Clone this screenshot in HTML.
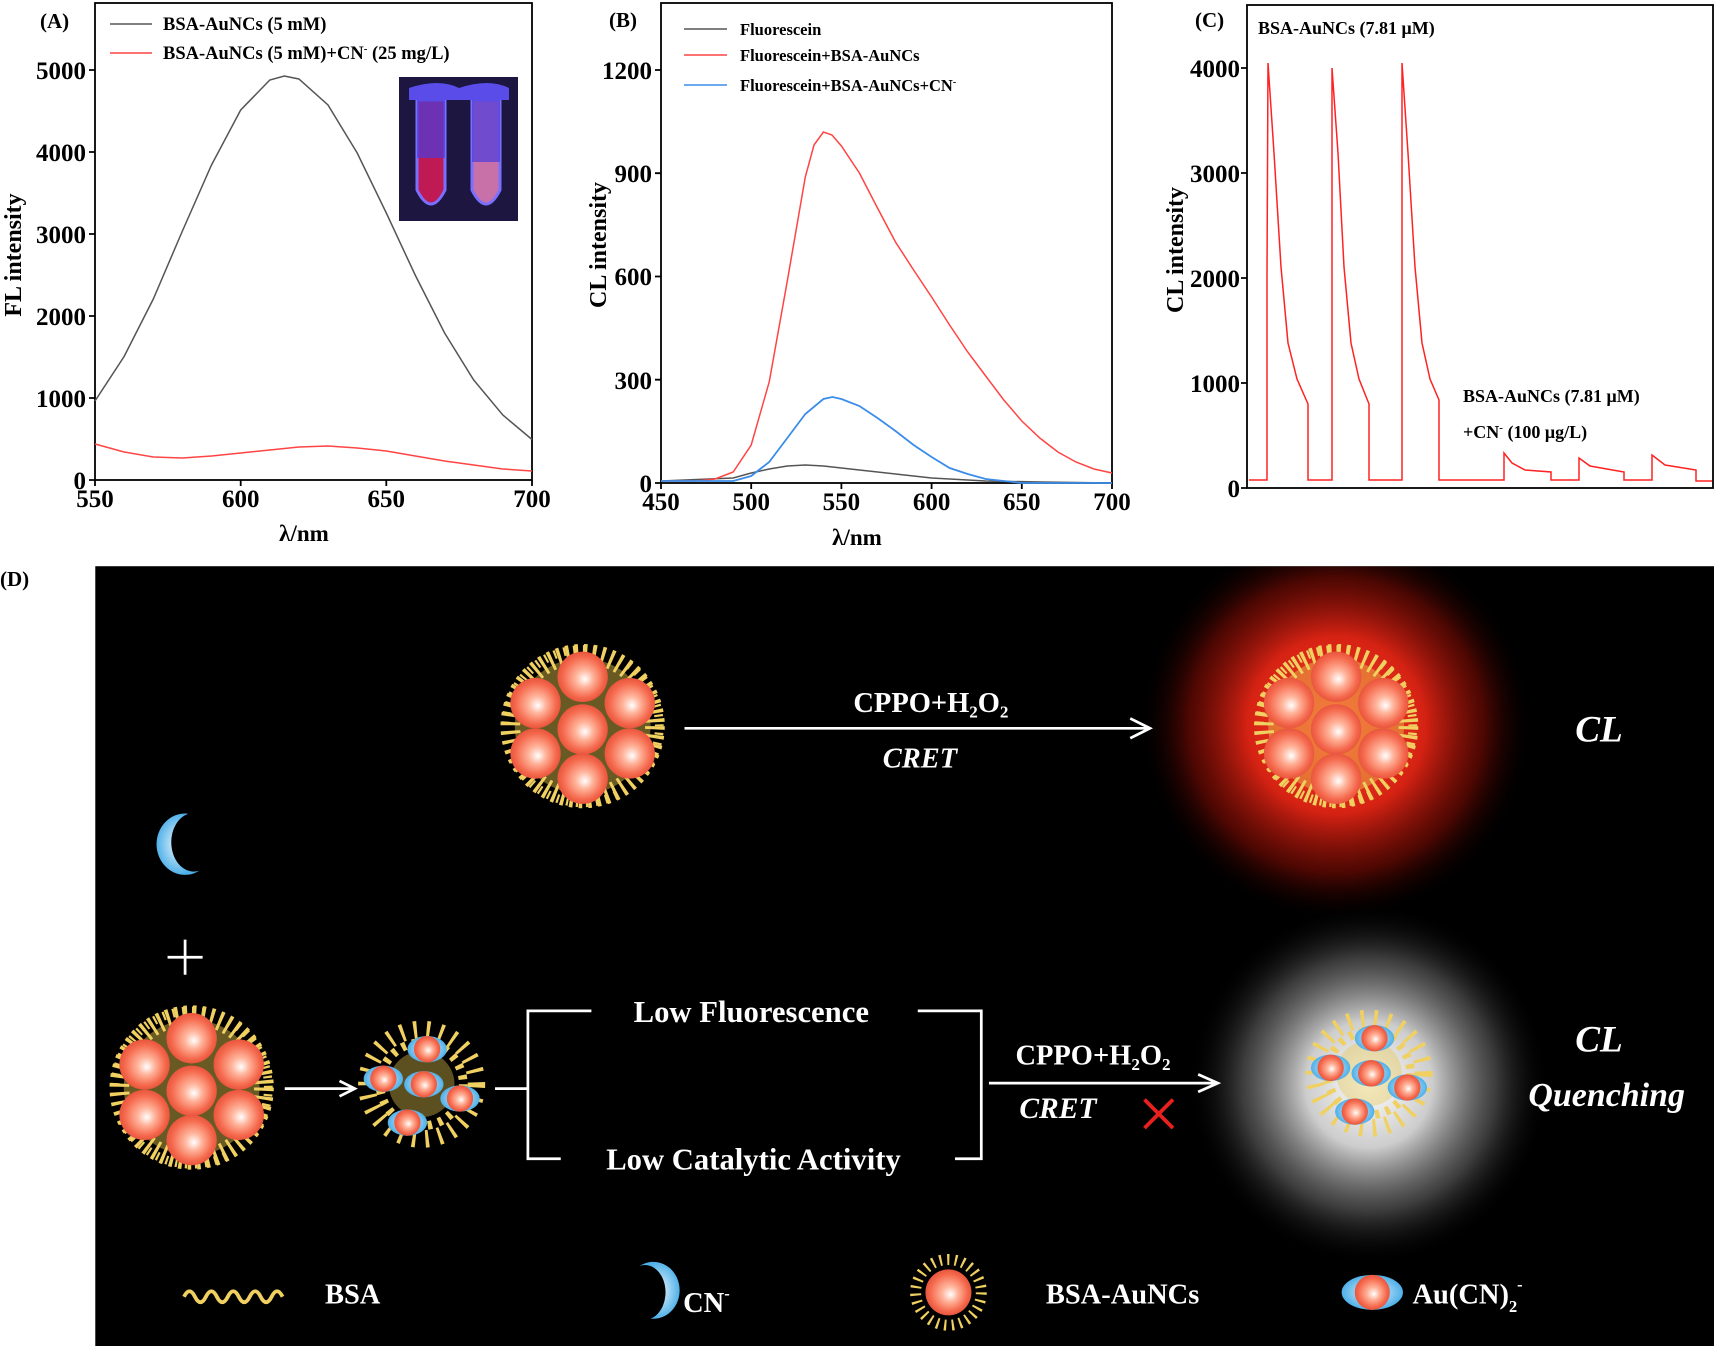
<!DOCTYPE html>
<html><head><meta charset="utf-8"><style>
html,body{margin:0;padding:0;background:#fff}
svg{display:block}
text{font-family:"Liberation Serif",serif;font-weight:bold}
</style></head><body>
<svg width="1715" height="1346" viewBox="0 0 1715 1346" xmlns="http://www.w3.org/2000/svg">
<defs>
<radialGradient id="sp" cx="0.5" cy="0.5" r="0.5" fx="0.55" fy="0.55">
<stop offset="0" stop-color="#fff"/><stop offset="0.35" stop-color="#ffb39a"/><stop offset="0.8" stop-color="#f56a4e"/><stop offset="1" stop-color="#e8553d"/></radialGradient>
<radialGradient id="rg"><stop offset="0" stop-color="#ff4030"/><stop offset="0.45" stop-color="#e02414" stop-opacity="0.95"/><stop offset="0.75" stop-color="#800c04" stop-opacity="0.6"/><stop offset="1" stop-color="#000" stop-opacity="0"/></radialGradient>
<radialGradient id="gg"><stop offset="0" stop-color="#fff"/><stop offset="0.35" stop-color="#d8d8d8" stop-opacity="0.95"/><stop offset="0.7" stop-color="#666" stop-opacity="0.6"/><stop offset="1" stop-color="#000" stop-opacity="0"/></radialGradient>
<radialGradient id="bl"><stop offset="0" stop-color="#e8f6ff"/><stop offset="1" stop-color="#4fb0e8"/></radialGradient>
<clipPath id="bx"><rect x="87" y="517" width="1478" height="713"/></clipPath>
<g id="big">
<circle r="62" fill="#e8c850" opacity="0.45"/>
<circle r="66" fill="none" stroke="#f0d060" stroke-width="18" stroke-dasharray="3 5"/>
<circle r="70" fill="none" stroke="#f0d060" stroke-width="8" stroke-dasharray="2 7" stroke-dashoffset="3"/>
<circle cx="0" cy="-45" r="23" fill="url(#sp)"/><circle cx="-43" cy="-21" r="23" fill="url(#sp)"/><circle cx="43" cy="-21" r="23" fill="url(#sp)"/>
<circle cx="0" cy="3" r="23" fill="url(#sp)"/><circle cx="-43" cy="25" r="23" fill="url(#sp)"/><circle cx="43" cy="25" r="23" fill="url(#sp)"/><circle cx="0" cy="48" r="23" fill="url(#sp)"/>
</g>
<g id="small">
<circle r="50" fill="none" stroke="#f0d060" stroke-width="16" stroke-dasharray="3 9"/>
<circle r="38" fill="none" stroke="#f0d060" stroke-width="8" stroke-dasharray="4 6"/>
<circle r="30" fill="#e8c850" opacity="0.4"/>
<g><ellipse cx="5" cy="-32" rx="18" ry="12" fill="url(#bl)"/><circle cx="5" cy="-32" r="12" fill="url(#sp)"/></g>
<g><ellipse cx="-35" cy="-5" rx="18" ry="12" fill="url(#bl)"/><circle cx="-35" cy="-5" r="12" fill="url(#sp)"/></g>
<g><ellipse cx="2" cy="0" rx="18" ry="12" fill="url(#bl)"/><circle cx="2" cy="0" r="12" fill="url(#sp)"/></g>
<g><ellipse cx="35" cy="13" rx="18" ry="12" fill="url(#bl)"/><circle cx="35" cy="13" r="12" fill="url(#sp)"/></g>
<g><ellipse cx="-13" cy="35" rx="18" ry="12" fill="url(#bl)"/><circle cx="-13" cy="35" r="12" fill="url(#sp)"/></g>
</g>
</defs>
<rect width="1715" height="1346" fill="#fff"/>
<g fill="none" stroke="#000" stroke-width="1.8">
<rect x="95" y="3" width="437" height="477"/>
<path d="M95 480h-6M95 398h-6M95 316h-6M95 234h-6M95 152h-6M95 70h-6M95 480v6M240.7 480v6M386.3 480v6M532 480v6"/>
<rect x="661" y="3" width="451" height="480"/>
<path d="M661 483h-6M661 379.7h-6M661 276.5h-6M661 173.2h-6M661 70h-6M661 483v6M751.2 483v6M841.4 483v6M931.6 483v6M1021.8 483v6M1112 483v6"/>
<rect x="1247" y="5" width="466" height="483"/>
<path d="M1247 488h-6M1247 383h-6M1247 278h-6M1247 173h-6M1247 68h-6"/>
</g>
<g font-size="25" text-anchor="end">
<text x="86" y="489">0</text><text x="86" y="407">1000</text><text x="86" y="325">2000</text><text x="86" y="243">3000</text><text x="86" y="161">4000</text><text x="86" y="79">5000</text>
<text x="652" y="492">0</text><text x="652" y="389">300</text><text x="652" y="285">600</text><text x="652" y="182">900</text><text x="652" y="79">1200</text>
<text x="1240" y="497">0</text><text x="1240" y="392">1000</text><text x="1240" y="287">2000</text><text x="1240" y="182">3000</text><text x="1240" y="77">4000</text>
</g>
<g font-size="25" text-anchor="middle">
<text x="95" y="507">550</text><text x="240.7" y="507">600</text><text x="386.3" y="507">650</text><text x="532" y="507">700</text>
<text x="661" y="510">450</text><text x="751.2" y="510">500</text><text x="841.4" y="510">550</text><text x="931.6" y="510">600</text><text x="1021.8" y="510">650</text><text x="1112" y="510">700</text>
<text x="304" y="541" font-size="23">λ/nm</text><text x="857" y="545" font-size="23">λ/nm</text>
<text transform="translate(21 255) rotate(-90)" font-size="24">FL intensity</text>
<text transform="translate(606 245) rotate(-90)" font-size="24">CL intensity</text>
<text transform="translate(1183 250) rotate(-90)" font-size="24">CL intensity</text>
</g>
<g font-size="21"><text x="40" y="28">(A)</text><text x="609" y="27">(B)</text><text x="1195" y="27">(C)</text><text x="0" y="586">(D)</text></g>
<polyline fill="none" stroke="#555" stroke-width="1.5" points="95,401 124.1,356.5 153.3,299 182.4,231 211.5,165 240.7,110 269.8,80 284.3,76 298.9,79 328,105 357.2,153 386.3,213 415.4,275.5 444.6,333 473.7,380 502.8,415 532,439.5"/>
<polyline fill="none" stroke="#f44" stroke-width="1.5" points="95,444 124.1,452 153.3,457 182.4,458 211.5,456 240.7,453 269.8,450 298.9,447 328,446 357.2,448 386.3,451 415.4,456 444.6,461 473.7,465 502.8,469 532,471"/>
<path d="M110 24h42" stroke="#555" stroke-width="1.6"/><text x="163" y="30" font-size="18.5">BSA-AuNCs (5 mM)</text>
<path d="M110 53h42" stroke="#f44" stroke-width="1.6"/><text x="163" y="59" font-size="18.5">BSA-AuNCs (5 mM)+CN<tspan font-size="11" dy="-7">-</tspan><tspan dy="7"> (25 mg/L)</tspan></text>
<rect x="399" y="77" width="119" height="144" fill="#1c1640"/>
<path d="M417 100h28v90q-14 28-28 0z" fill="#c01a55" stroke="#7a70ff" stroke-width="3"/>
<path d="M472 100h28v90q-14 28-28 0z" fill="#c870a8" stroke="#7a70ff" stroke-width="3"/>
<path d="M417 100v58h28v-58zM472 100v62h28v-62z" fill="#4a3cdd" opacity="0.7"/>
<path d="M409 88q30-10 50 0q30-10 50 0v12h-100z" fill="#5a4ce8"/>
<polyline fill="none" stroke="#555" stroke-width="1.5" points="661,481 733.2,478 751.2,473 769.2,469 787.3,466 805.3,465 823.4,466 841.4,468 859.4,470 895.5,474 931.6,478 985.7,481 1039.8,482 1112,483"/>
<polyline fill="none" stroke="#f44" stroke-width="1.5" points="661,481 679,481 697.1,481 715.1,479 733.2,472 751.2,445 769.2,382 787.3,281 805.3,177 814,145 823.4,132 832,135 841.4,146 859.4,173 877.5,208 895.5,242 913.6,270 931.6,297 949.6,325 967.7,352 985.7,376 1003.8,400 1021.8,421 1039.8,438 1057.9,452 1075.9,462 1094,469 1112,473"/>
<polyline fill="none" stroke="#3b8de8" stroke-width="1.8" points="661,481 733.2,481 751.2,476 769.2,462 787.3,438 805.3,414 823.4,399 832.4,397 841.4,399 859.4,406 877.5,418 895.5,431 913.6,445 931.6,457 949.6,468 967.7,474 985.7,479 1003.8,481 1021.8,483 1112,483"/>
<path d="M684 29h43" stroke="#555" stroke-width="1.6"/><text x="740" y="35" font-size="16.5">Fluorescein</text>
<path d="M684 55h43" stroke="#f44" stroke-width="1.6"/><text x="740" y="61" font-size="16.5">Fluorescein+BSA-AuNCs</text>
<path d="M684 85h43" stroke="#3b8de8" stroke-width="1.6"/><text x="740" y="91" font-size="16.5">Fluorescein+BSA-AuNCs+CN<tspan font-size="10" dy="-6">-</tspan></text>
<path fill="none" stroke="#f22" stroke-width="1.5" d="M1249 480H1267V274L1268 63L1274 153L1281 267L1288 343L1297 379L1308 404V480H1332V68L1338 153L1344 267L1351 343L1359 379L1369 404V480H1402V63L1408 153L1415 267L1422 343L1430 379L1439 400V480H1504V453L1512 463L1525 470L1551 472V480H1579V458L1590 466L1624 472V480H1652V455L1665 465L1696 470V481H1712"/>
<text x="1258" y="34" font-size="18">BSA-AuNCs (7.81 μM)</text>
<text x="1463" y="402" font-size="18">BSA-AuNCs (7.81 μM)</text>
<text x="1463" y="438" font-size="18">+CN<tspan font-size="11" dy="-7">-</tspan><tspan dy="7"> (100 μg/L)</tspan></text>
<g transform="scale(1.0952)">
<rect x="87" y="517" width="1478" height="713" fill="#000"/>
<g clip-path="url(#bx)">
<circle cx="1220" cy="662" r="180" fill="url(#rg)"/>
<circle cx="1250" cy="990" r="165" fill="url(#gg)"/>
</g>
<use href="#big" x="532" y="663"/>
<use href="#big" x="1220" y="663"/>
<use href="#big" x="175" y="993"/>
<use href="#small" x="385" y="990"/>
<use href="#small" x="1250" y="980"/>
<g fill="#fff" text-anchor="middle">
<text x="850" y="650" font-size="26">CPPO+H₂O₂</text>
<text x="840" y="701" font-size="26" font-style="italic">CRET</text>
<text x="1460" y="677" font-size="34" font-style="italic">CL</text>
<text x="1460" y="960" font-size="34" font-style="italic">CL</text>
<text x="1467" y="1010" font-size="31" font-style="italic">Quenching</text>
<text x="686" y="933" font-size="28">Low Fluorescence</text>
<text x="688" y="1068" font-size="28">Low Catalytic Activity</text>
<text x="998" y="972" font-size="26">CPPO+H₂O₂</text>
<text x="966" y="1021" font-size="27" font-style="italic">CRET</text>
<text x="322" y="1190" font-size="26">BSA</text>
<text x="645" y="1198" font-size="26">CN<tspan font-size="15" dy="-12">-</tspan></text>
<text x="1025" y="1190" font-size="26">BSA-AuNCs</text>
<text x="1340" y="1190" font-size="26">Au(CN)<tspan font-size="15" dy="8">2</tspan><tspan font-size="15" dy="-20">-</tspan></text>
</g>
<g stroke="#fff" stroke-width="2.5" fill="none">
<path d="M625 665H1048M1032 656L1050 665L1032 674"/>
<path d="M260 994H322M310 987L324 994L310 1001"/>
<path d="M452 994H482M540 923H482V1058H512M838 923H896V1058H872"/>
<path d="M903 989H1110M1094 981L1112 989L1094 997"/>
<path d="M153 874H185M169 858V890"/>
</g>
<path d="M1045 1004L1071 1030M1071 1004L1045 1030" stroke="#e8211e" stroke-width="3.5"/>
<path d="M172 743a26 28 0 1 0 10 52a20 26 0 1 1 -10 -52z" fill="url(#bl)"/>
<path d="M584 1156a24 26 0 1 1 10 48a18 24 0 1 0 -10 -48z" fill="url(#bl)"/>
<path d="M168 1184q5-10 10 0t10 0t10 0t10 0t10 0t10 0t10 0t10 0t10 0" stroke="#f0d060" fill="none" stroke-width="3.5"/>
<circle cx="866" cy="1180" r="30" fill="none" stroke="#f0d060" stroke-width="10" stroke-dasharray="2 5"/>
<circle cx="866" cy="1180" r="21" fill="url(#sp)"/>
<ellipse cx="1253" cy="1180" rx="28" ry="16" fill="url(#bl)"/><circle cx="1253" cy="1180" r="16" fill="url(#sp)"/>
</g>
</svg>
</body></html>
